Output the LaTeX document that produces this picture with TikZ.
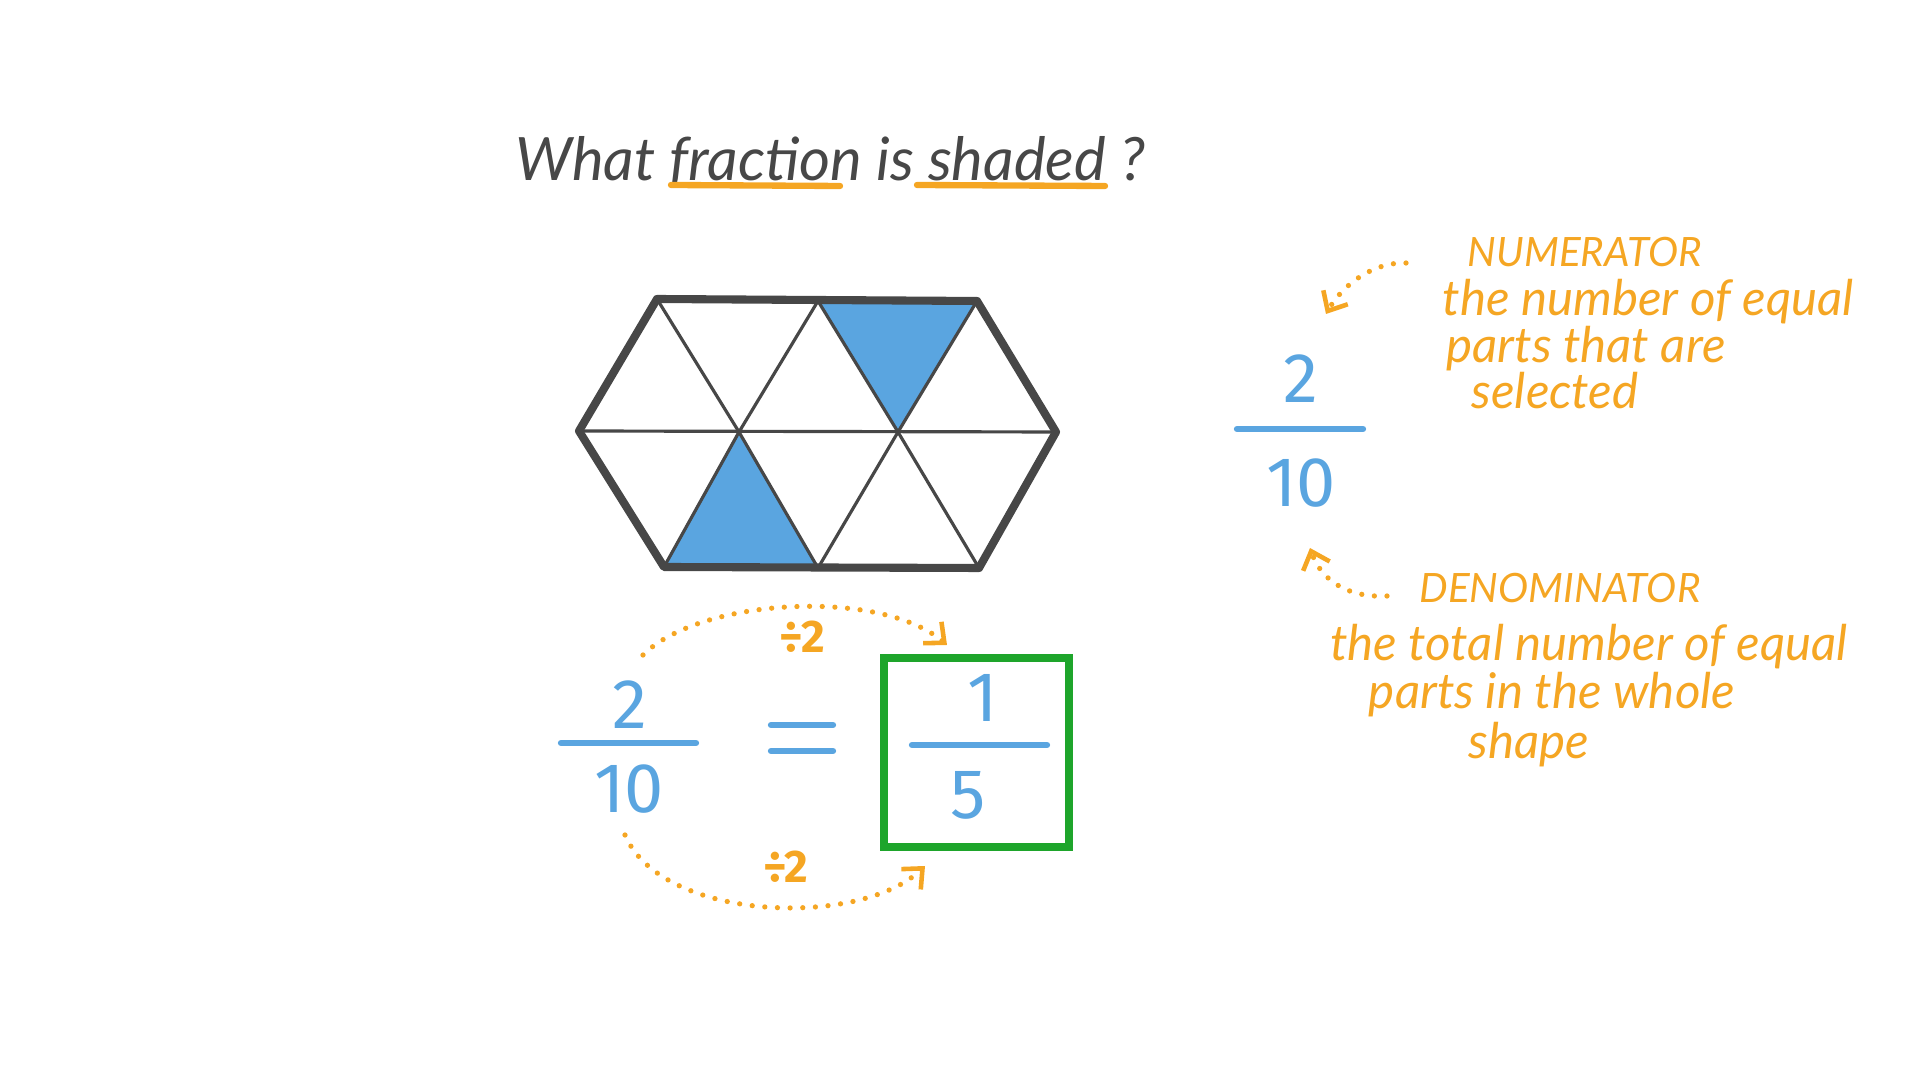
\documentclass[tikz,border=0pt]{standalone}
\usepackage{fontspec}
\setmainfont{Lato}
\newfontfamily\numfont{Fira Sans}
\usetikzlibrary{arrows.meta}
\definecolor{ink}{HTML}{474747}
\definecolor{hlorange}{HTML}{F5A623}
\definecolor{fracblue}{HTML}{5AA5E0}
\definecolor{boxgreen}{HTML}{1EA52B}
\begin{document}
\begin{tikzpicture}[x=0.01cm,y=-0.01cm,
  titletext/.style={text=ink, font=\fontsize{17}{20}\selectfont\itshape, inner sep=0pt},
  notetext/.style={text=hlorange, font=\fontsize{14}{16}\selectfont\itshape, inner sep=0pt},
  capstext/.style={text=hlorange, font=\fontsize{11.5}{13}\selectfont\itshape, inner sep=0pt},
  digit/.style={text=fracblue, font=\fontsize{20}{24}\selectfont\numfont, inner sep=0pt},
  divtext/.style={text=hlorange, font=\fontsize{13}{15}\selectfont\numfont\bfseries, inner sep=0pt},
  outerline/.style={draw=ink, line width=2.3pt, line join=round, line cap=round},
  innerline/.style={draw=ink, line width=0.9pt, line cap=round},
  shade/.style={fill=fracblue},
  fracbar/.style={draw=fracblue, line width=1.8pt, line cap=round},
  underl/.style={draw=hlorange, line width=1.8pt, line cap=round},
  dotarrow/.style={draw=hlorange, line width=1.5pt, line cap=round, dash pattern=on 0pt off 3.6pt,
    -{Straight Barb[length=4.5pt,width=8pt,line width=1.3pt]}},
]
\useasboundingbox (0,0) rectangle (1920,1080);

% title
\node[titletext, anchor=base] (title) at (830,181) {What fraction is shaded ?};
\draw[underl] (671,185) -- (840,186);
\draw[underl] (917,185) -- (1105,186);

% hexagon vertices
\coordinate (L)  at (579,431);
\coordinate (TL) at (657,299);
\coordinate (TM) at (818,301);
\coordinate (TR) at (977,301);
\coordinate (R)  at (1056,432);
\coordinate (BR) at (979,568);
\coordinate (BM) at (818,568);
\coordinate (BL) at (664,567);
\coordinate (C1) at (739,432);
\coordinate (C2) at (898,432);

\fill[shade] (TM) -- (TR) -- (C2) -- cycle;
\fill[shade] (BL) -- (BM) -- (C1) -- cycle;

\draw[innerline] (L) -- (R);
\draw[innerline] (TL) -- (C1) -- (TM) -- (C2) -- (TR);
\draw[innerline] (BL) -- (C1) -- (BM) -- (C2) -- (BR);
\draw[outerline] (L) -- (TL) -- (TR) -- (R) -- (BR) -- (BL) -- cycle;

% right fraction
\node[digit] (rnum) at (1301,379) {2};
\draw[fracbar] (1237,429) -- (1363,429);
\node[digit] (rden) at (1301,483) {10};

% numerator note
\node[capstext] (numlabel) at (1585,252) {NUMERATOR};
\node[notetext] (numl1) at (1648,302) {the number of equal};
\node[notetext] (numl2) at (1586,349) {parts that are};
\node[notetext] (numl3) at (1555,391) {selected};
\coordinate (numTail) at (1406,263);
\coordinate (numTip) at (1326,314);
\draw[dotarrow] (numTail) .. controls (1372,262) and (1342,286) .. (numTip);

% denominator note
\node[capstext] (denlabel) at (1560,588) {DENOMINATOR};
\node[notetext] (denl1) at (1589,647) {the total number of equal};
\node[notetext] (denl2) at (1552,695) {parts in the whole};
\node[notetext] (denl3) at (1529,745) {shape};
\coordinate (denTail) at (1387,596);
\coordinate (denTip) at (1310,548);
\draw[dotarrow] (denTail) .. controls (1350,598) and (1322,582) .. (denTip);

% bottom equation
\node[digit] (lnum) at (630,705) {2};
\draw[fracbar] (561,743) -- (696,743);
\node[digit] (lden) at (629,789) {10};
\draw[fracbar] (771,725) -- (833,725);
\draw[fracbar] (771,751) -- (833,751);
\node[draw=boxgreen, line width=2.2pt, minimum width=185*0.2845pt, minimum height=189*0.2845pt, inner sep=0pt] (answer) at (976.5,752.5) {};
\node[digit] (anum) at (983,698) {1};
\draw[fracbar] (912,745) -- (1047,745);
\node[digit] (aden) at (968,795) {5};

% divide arrows
\coordinate (topTail) at (643,655);
\coordinate (topTip) at (947,645);
\draw[dotarrow] (topTail) .. controls (700,598) and (880,588) .. (topTip);
\node[divtext] (topdiv) at (802,637) {÷2};
\coordinate (botTail) at (625,835);
\coordinate (botTip) at (925,866);
\draw[dotarrow] (botTail) .. controls (662,922) and (860,928) .. (botTip);
\node[divtext] (botdiv) at (786,867) {÷2};
\end{tikzpicture}
\end{document}
